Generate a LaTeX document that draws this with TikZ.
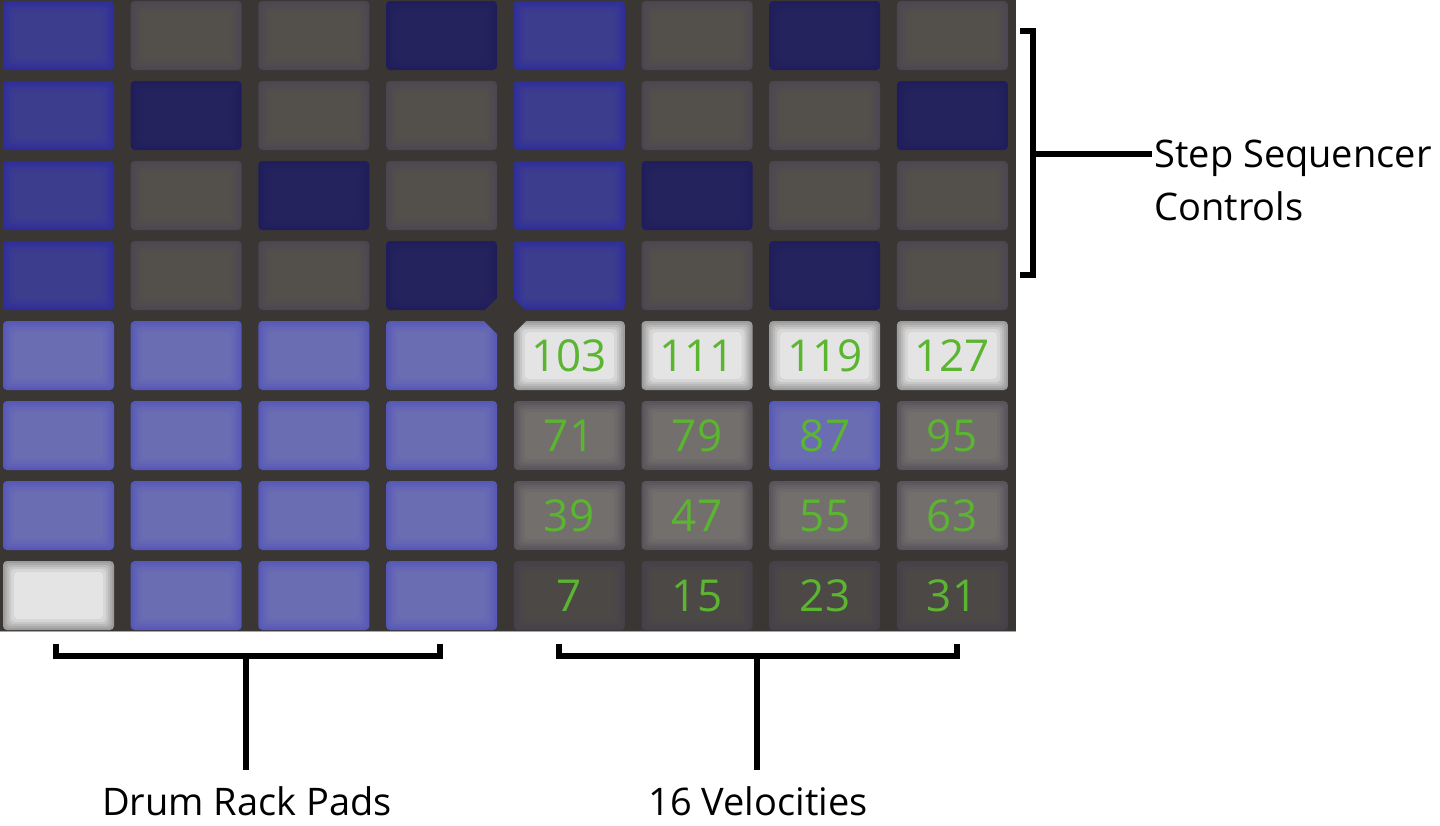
\documentclass[tikz,border=0pt]{standalone}
\usepackage{fontspec}
\newfontfamily\labelfont{Open Sans}
\definecolor{gridbg}{HTML}{3A3633}
\definecolor{bblueedge}{HTML}{2E2E9C}
\definecolor{bbluecore}{HTML}{3D3D8E}
\definecolor{navyedge}{HTML}{1F1D5A}
\definecolor{navycore}{HTML}{25235E}
\definecolor{gpadedge}{HTML}{4A4752}
\definecolor{gpadcore}{HTML}{534F4B}
\definecolor{lblueedge}{HTML}{5759B8}
\definecolor{lbluecore}{HTML}{6B6DB3}
\definecolor{wpadedge}{HTML}{9C9C9C}
\definecolor{wpadcore}{HTML}{E4E4E4}
\definecolor{mgrayedge}{HTML}{58555C}
\definecolor{mgraycore}{HTML}{736F6D}
\definecolor{dgrayedge}{HTML}{44414A}
\definecolor{dgraycore}{HTML}{4C4846}
\definecolor{velgreen}{HTML}{5BB530}
% one pad of the grid: column, row, colour family
\newcommand{\pad}[3]{%
  \pgfmathsetmacro{\padx}{3+127.7*#1}%
  \pgfmathsetmacro{\pady}{1+80*#2}%
  \fill[#3edge, rounded corners=2pt] (\padx,\pady) rectangle ++(111,69);
  \fill[#3core!20!#3edge, rounded corners=2pt] (\padx+2,\pady+2) rectangle ++(107,65);
  \fill[#3core!40!#3edge, rounded corners=2pt] (\padx+4,\pady+4) rectangle ++(103,61);
  \fill[#3core!60!#3edge, rounded corners=2pt] (\padx+6,\pady+6) rectangle ++(99,57);
  \fill[#3core!80!#3edge, rounded corners=2pt] (\padx+8,\pady+8) rectangle ++(95,53);
  \fill[#3core, rounded corners=2pt] (\padx+11,\pady+11) rectangle ++(89,47);
}

\begin{document}
\begin{tikzpicture}[x=0.5pt, y=-0.5pt]
            \tikzstyle{velnum} = [text=velgreen, font=\labelfont\fontsize{22}{26}\selectfont, inner sep=0pt]
            \tikzstyle{callout} = [font=\labelfont\fontsize{19}{23}\selectfont, inner sep=1pt]
            \tikzstyle{bracket} = [line width=3pt, color=black]
            \fill[white] (0, 0) rectangle (1440, 825);
            \useasboundingbox (0, 0) rectangle (1440, 825);
            \fill[gridbg] (0, 0) rectangle (1016, 632);
            \draw[color=black!35, line width=0.5pt] (0, 631.5) -- (1016, 631.5);

            % step sequencer rows
            \pad{0}{0}{bblue} \pad{1}{0}{gpad} \pad{2}{0}{gpad} \pad{3}{0}{navy} \pad{4}{0}{bblue} \pad{5}{0}{gpad} \pad{6}{0}{navy} \pad{7}{0}{gpad}
            \pad{0}{1}{bblue} \pad{1}{1}{navy} \pad{2}{1}{gpad} \pad{3}{1}{gpad} \pad{4}{1}{bblue} \pad{5}{1}{gpad} \pad{6}{1}{gpad} \pad{7}{1}{navy}
            \pad{0}{2}{bblue} \pad{1}{2}{gpad} \pad{2}{2}{navy} \pad{3}{2}{gpad} \pad{4}{2}{bblue} \pad{5}{2}{navy} \pad{6}{2}{gpad} \pad{7}{2}{gpad}
            \pad{0}{3}{bblue} \pad{1}{3}{gpad} \pad{2}{3}{gpad} \pad{3}{3}{navy} \pad{4}{3}{bblue} \pad{5}{3}{gpad} \pad{6}{3}{navy} \pad{7}{3}{gpad}
            % drum pads and velocities
            \pad{0}{4}{lblue} \pad{1}{4}{lblue} \pad{2}{4}{lblue} \pad{3}{4}{lblue} \pad{4}{4}{wpad} \pad{5}{4}{wpad} \pad{6}{4}{wpad} \pad{7}{4}{wpad}
            \pad{0}{5}{lblue} \pad{1}{5}{lblue} \pad{2}{5}{lblue} \pad{3}{5}{lblue} \pad{4}{5}{mgray} \pad{5}{5}{mgray} \pad{6}{5}{lblue} \pad{7}{5}{mgray}
            \pad{0}{6}{lblue} \pad{1}{6}{lblue} \pad{2}{6}{lblue} \pad{3}{6}{lblue} \pad{4}{6}{mgray} \pad{5}{6}{mgray} \pad{6}{6}{mgray} \pad{7}{6}{mgray}
            \pad{0}{7}{wpad} \pad{1}{7}{lblue} \pad{2}{7}{lblue} \pad{3}{7}{lblue} \pad{4}{7}{dgray} \pad{5}{7}{dgray} \pad{6}{7}{dgray} \pad{7}{7}{dgray}
            % cut corners in the middle
            \fill[gridbg] (505, 290) -- (531, 316) -- (505, 342) -- (479, 316) -- cycle;

            \node[velnum] (v103) at (569, 356) {103};
            \node[velnum] (v111) at (697, 356) {111};
            \node[velnum] (v119) at (825, 356) {119};
            \node[velnum] (v127) at (952, 356) {127};
            \node[velnum] (v71) at (569, 436) {71};
            \node[velnum] (v79) at (697, 436) {79};
            \node[velnum] (v87) at (825, 436) {87};
            \node[velnum] (v95) at (952, 436) {95};
            \node[velnum] (v39) at (569, 516) {39};
            \node[velnum] (v47) at (697, 516) {47};
            \node[velnum] (v55) at (825, 516) {55};
            \node[velnum] (v63) at (952, 516) {63};
            \node[velnum] (v7) at (569, 596) {7};
            \node[velnum] (v15) at (697, 596) {15};
            \node[velnum] (v23) at (825, 596) {23};
            \node[velnum] (v31) at (952, 596) {31};

            % step sequencer bracket
            \node[callout, anchor=base west] (stepLabel) at (1152, 167) {Step Sequencer};
            \node[callout, anchor=base west] (stepLabelB) at (1152, 220) {Controls};
            \draw[bracket] (1020, 31) -- (1033, 31) -- (1033, 275) -- (1020, 275);
            \coordinate (stepMid) at (1033, 154);
            \draw[bracket] (stepMid) -- (stepLabel.west |- stepMid);

            % drum rack bracket
            \node[callout, anchor=base] (drumLabel) at (247, 815) {Drum Rack Pads};
            \draw[bracket] (56, 644) -- (56, 656) -- (440, 656) -- (440, 644);
            \coordinate (drumMid) at (246, 656);
            \coordinate (drumEnd) at (246, 770);
            \draw[bracket] (drumMid) -- (drumEnd);

            % velocity bracket
            \node[callout, anchor=base] (velLabel) at (758, 815) {16 Velocities};
            \draw[bracket] (559, 644) -- (559, 656) -- (957, 656) -- (957, 644);
            \coordinate (velMid) at (757, 656);
            \coordinate (velEnd) at (757, 770);
            \draw[bracket] (velMid) -- (velEnd);
        \end{tikzpicture}
\end{document}
